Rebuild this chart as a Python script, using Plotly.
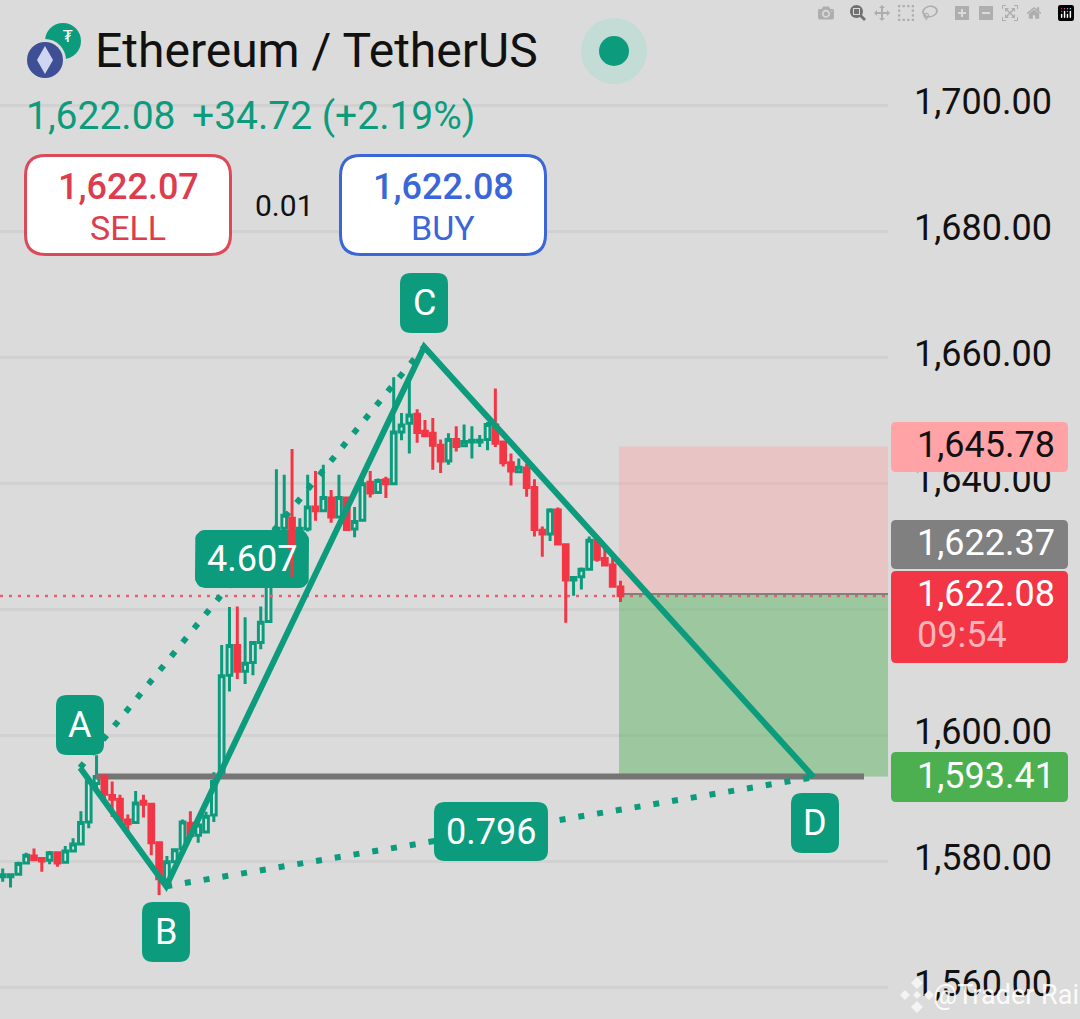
import math
import plotly.graph_objects as go

# Candles, ETH/USDT
candle_open = [
    1577.5, 1577.5, 1577.9, 1579.7, 1580.8, 1580.4, 1580.1, 1581.3, 1579.8, 1581.6,
    1582.7, 1586.2, 1592.3, 1593.5, 1590.4, 1589.8, 1586.5, 1586.1, 1589.5, 1589.0,
    1582.9, 1577.0, 1579.9, 1582.0, 1586.0, 1584.1, 1584.6, 1587.3, 1593.3, 1609.5,
    1614.2, 1610.1, 1611.5, 1614.7, 1618.0, 1628.3, 1632.8, 1634.4, 1631.5, 1632.7,
    1636.2, 1635.6, 1637.6, 1634.6, 1637.6, 1632.7, 1634.1, 1640.1, 1638.5, 1640.5,
    1639.9, 1648.1, 1649.5, 1650.9, 1648.2, 1647.9, 1646.0, 1643.5, 1646.9, 1645.9,
    1646.5, 1646.5, 1646.9, 1649.2, 1646.5, 1643.2, 1641.8, 1642.4, 1639.3, 1632.5,
    1631.9, 1635.7, 1630.2, 1624.6, 1625.1, 1626.3, 1630.9, 1628.0, 1627.0, 1623.5,
]
candle_high = [
    1578.8, 1578.0, 1579.9, 1581.3, 1582.0, 1580.5, 1581.6, 1581.5, 1582.4, 1583.6,
    1587.9, 1593.1, 1596.8, 1593.6, 1592.6, 1590.5, 1587.4, 1591.1, 1590.5, 1589.1,
    1583.0, 1580.8, 1582.0, 1586.6, 1587.9, 1586.8, 1587.8, 1594.1, 1614.3, 1620.3,
    1620.4, 1618.7, 1614.8, 1620.4, 1631.0, 1642.2, 1641.3, 1645.4, 1634.4, 1641.3,
    1641.9, 1642.9, 1638.9, 1641.3, 1637.7, 1636.2, 1640.5, 1641.9, 1640.7, 1641.0,
    1656.8, 1651.1, 1656.3, 1651.7, 1650.0, 1650.3, 1646.9, 1647.9, 1649.0, 1649.3,
    1649.0, 1647.6, 1649.7, 1655.0, 1646.7, 1644.7, 1643.9, 1643.1, 1640.6, 1633.1,
    1636.0, 1636.1, 1630.3, 1625.2, 1626.6, 1631.5, 1631.7, 1630.2, 1628.3, 1624.5,
]
candle_low = [
    1576.7, 1575.8, 1577.9, 1579.5, 1580.2, 1578.3, 1579.5, 1579.1, 1579.8, 1581.5,
    1582.7, 1585.2, 1591.0, 1589.8, 1587.0, 1586.2, 1583.9, 1586.1, 1586.9, 1580.9,
    1574.6, 1577.0, 1579.9, 1582.0, 1584.0, 1582.9, 1584.5, 1586.2, 1593.3, 1606.9,
    1608.9, 1608.1, 1609.5, 1613.6, 1617.9, 1627.5, 1632.0, 1625.1, 1630.9, 1632.3,
    1634.0, 1635.6, 1633.7, 1634.4, 1632.5, 1631.4, 1634.0, 1637.7, 1638.4, 1637.6,
    1639.8, 1646.8, 1644.7, 1646.4, 1647.4, 1642.1, 1641.6, 1642.9, 1645.0, 1645.8,
    1643.9, 1645.7, 1645.2, 1645.7, 1642.6, 1639.6, 1641.6, 1637.8, 1631.5, 1628.3,
    1630.8, 1630.3, 1617.8, 1622.1, 1623.1, 1626.2, 1627.5, 1626.8, 1623.5, 1621.1,
]
candle_close = [
    1577.8, 1577.8, 1579.6, 1580.9, 1580.2, 1580.0, 1581.3, 1579.7, 1581.6, 1582.7,
    1586.1, 1592.6, 1593.4, 1590.6, 1589.8, 1586.4, 1585.9, 1589.2, 1589.0, 1582.9,
    1577.2, 1579.9, 1581.8, 1586.2, 1584.0, 1585.7, 1587.1, 1592.6, 1609.4, 1614.2,
    1610.1, 1611.4, 1614.7, 1617.9, 1628.3, 1632.8, 1634.9, 1629.6, 1632.8, 1636.2,
    1635.6, 1637.7, 1634.6, 1637.7, 1632.6, 1633.9, 1639.9, 1638.4, 1640.4, 1639.9,
    1648.1, 1649.2, 1650.8, 1648.0, 1647.5, 1646.0, 1643.5, 1646.9, 1645.8, 1646.6,
    1646.8, 1646.8, 1649.3, 1646.3, 1643.2, 1641.9, 1642.5, 1639.3, 1632.6, 1631.9,
    1635.7, 1630.3, 1624.6, 1625.0, 1626.3, 1630.9, 1627.9, 1627.0, 1623.6, 1622.1,
]

# ABCD pattern, x in candle numbers
pattern_names = ["A", "B", "C", "D"]
pattern_x = [9.9, 20.9, 53.9, 103.7]
pattern_y = [1594.8, 1576.0, 1661.6, 1593.3]

tick_vals = [1560, 1580, 1600, 1620, 1640, 1660, 1680, 1700]

entry_price = 1622.37
last_price = 1622.08
stop_price = 1645.78
target_price = 1593.41

# page and scale
W, H = 1080, 1019
PLOT_W = 888
X0_PX, STEP_PX = 2.7, 7.82
Y_TOP, Y_BOTTOM = 1700 + 105 / 6.3, 1700 - 914 / 6.3

BG = "#dbdbdb"
GREEN = "#0c9b7d"
RED = "#f23645"
FONT = "Roboto"


def px_x(px):
    return (px - X0_PX) / STEP_PX


def py_y(py):
    return Y_TOP - (Y_TOP - Y_BOTTOM) * py / H


def round_rect(x0, y0, x1, y1, r):
    # svg path in paper coords, inputs in page pixels
    def p(x, y):
        return f"{x / W:.5f},{1 - y / H:.5f}"
    return (
        f"M{p(x0 + r, y0)} L{p(x1 - r, y0)} Q{p(x1, y0)} {p(x1, y0 + r)} "
        f"L{p(x1, y1 - r)} Q{p(x1, y1)} {p(x1 - r, y1)} L{p(x0 + r, y1)} "
        f"Q{p(x0, y1)} {p(x0, y1 - r)} L{p(x0, y0 + r)} Q{p(x0, y0)} {p(x0 + r, y0)} Z"
    )


def round_outline(x0, y0, x1, y1, r):
    # same box as a polyline, for the label that has to sit under the red candles
    xs, ys = [], []
    corners = [(x1 - r, y0 + r, -90), (x1 - r, y1 - r, 0), (x0 + r, y1 - r, 90), (x0 + r, y0 + r, 180)]
    for cx, cy, start in corners:
        for step in range(7):
            a = math.radians(start + step * 15)
            xs.append(px_x(cx + r * math.cos(a)))
            ys.append(py_y(cy + r * math.sin(a)))
    return xs + xs[:1], ys + ys[:1]


def box(x0, y0, x1, y1, r, fill, line=None, width=0):
    return dict(type="path", xref="paper", yref="paper", path=round_rect(x0, y0, x1, y1, r),
                fillcolor=fill, line=dict(color=line or fill, width=width), layer="above")


def circle(cx, cy, r, fill):
    return dict(type="circle", xref="paper", yref="paper", x0=(cx - r) / W, x1=(cx + r) / W,
                y0=1 - (cy + r) / H, y1=1 - (cy - r) / H, fillcolor=fill,
                line=dict(width=0), layer="above")


def diamond(cx, cy, rx, ry, fill):
    path = (f"M{cx / W:.5f},{1 - (cy - ry) / H:.5f} L{(cx + rx) / W:.5f},{1 - cy / H:.5f} "
            f"L{cx / W:.5f},{1 - (cy + ry) / H:.5f} L{(cx - rx) / W:.5f},{1 - cy / H:.5f} Z")
    return dict(type="path", xref="paper", yref="paper", path=path, fillcolor=fill,
                line=dict(width=0), layer="above")


def text(px, py, s, size, color, anchor="left", weight=400, family=FONT):
    return dict(xref="paper", yref="paper", x=px / W, y=1 - py / H, text=s, showarrow=False,
                xanchor=anchor, yanchor="middle", align=anchor, borderpad=0,
                font=dict(family=family, size=size, color=color, weight=weight))


idx = list(range(len(candle_open)))
up = [i for i in idx if candle_close[i] >= candle_open[i]]
down = [i for i in idx if candle_close[i] < candle_open[i]]

fig = go.Figure()

# target line across the chart
fig.add_trace(go.Scatter(x=[px_x(96), px_x(864)], y=[target_price, target_price], mode="lines",
                         line=dict(color="#757575", width=6), hoverinfo="skip"))
# current price
fig.add_trace(go.Scatter(x=[px_x(0), px_x(PLOT_W)], y=[last_price, last_price], mode="lines",
                         line=dict(color="#e5606c", width=2.5, dash="3px,6px"), hoverinfo="skip"))
fig.add_trace(go.Scatter(x=[px_x(619), px_x(PLOT_W)], y=[entry_price, entry_price], mode="lines",
                         line=dict(color="#808080", width=2), hoverinfo="skip"))

# dotted legs
fig.add_trace(go.Scatter(x=[pattern_x[0], pattern_x[2]], y=[pattern_y[0], pattern_y[2]], mode="lines",
                         line=dict(color=GREEN, width=6, dash="6px,12px"), hoverinfo="skip"))
fig.add_trace(go.Scatter(x=[pattern_x[1], pattern_x[3]], y=[pattern_y[1], pattern_y[3]], mode="lines",
                         line=dict(color=GREEN, width=6, dash="6px,13px"), hoverinfo="skip"))

fig.add_trace(go.Candlestick(
    x=up,
    open=[candle_open[i] for i in up],
    high=[candle_high[i] for i in up],
    low=[candle_low[i] for i in up],
    close=[candle_close[i] for i in up],
    increasing=dict(line=dict(color=GREEN, width=3), fillcolor="#dcebe6"),
    whiskerwidth=0, hoverinfo="skip",
))

# 4.607 label sits between the green and the red candles
label_xs, label_ys = round_outline(195, 530, 309, 588, 10)
fig.add_trace(go.Scatter(x=label_xs, y=label_ys, mode="lines", fill="toself", fillcolor=GREEN,
                         line=dict(color=GREEN, width=0), hoverinfo="skip"))

# overlay axes keep red candles and the solid legs on top of that label
fig.add_trace(go.Candlestick(
    x=down,
    open=[candle_open[i] for i in down],
    high=[candle_high[i] for i in down],
    low=[candle_low[i] for i in down],
    close=[candle_close[i] for i in down],
    decreasing=dict(line=dict(color=RED, width=3), fillcolor=RED),
    whiskerwidth=0, hoverinfo="skip", xaxis="x2", yaxis="y2",
))
fig.add_trace(go.Scatter(x=pattern_x, y=pattern_y, mode="lines", xaxis="x2", yaxis="y2",
                         line=dict(color=GREEN, width=6), hoverinfo="skip"))

shapes = [
    # position box
    dict(type="rect", xref="x", yref="y", x0=px_x(619), x1=px_x(PLOT_W), y0=entry_price, y1=stop_price,
         fillcolor="rgba(255,155,155,0.36)", line=dict(width=0), layer="between"),
    dict(type="rect", xref="x", yref="y", x0=px_x(619), x1=px_x(PLOT_W), y0=target_price, y1=entry_price,
         fillcolor="rgba(76,175,80,0.43)", line=dict(width=0), layer="between"),
    # point labels
    box(56, 695, 104, 755, 11, GREEN),
    box(142, 902, 190, 962, 11, GREEN),
    box(400, 273, 448, 333, 11, GREEN),
    box(791, 793, 839, 853, 11, GREEN),
    box(434, 802, 548, 861, 11, GREEN),
    # header buttons
    box(25.5, 155.5, 230.5, 254.5, 20, "#ffffff", "#dc4a5a", 3),
    box(340.5, 155.5, 545.5, 254.5, 20, "#ffffff", "#3a66d8", 3),
    # price tags
    box(891, 422, 1068, 472, 5, "#ffa3a6"),
    box(891, 520, 1068, 569, 5, "#808080"),
    box(891, 571, 1068, 663, 5, "#f23645"),
    box(891, 752, 1068, 802, 5, "#4caf50"),
    # logos
    circle(63, 41, 18, GREEN),
    circle(45, 60, 21, BG),
    circle(45, 60, 18, "#3f4f96"),
    diamond(45, 60, 8, 14, "#cfd6f2"),
    circle(614, 51, 33, "#c3dcd5"),
    circle(614, 51, 15, GREEN),
    # watermark logo
    diamond(917, 983, 6, 6, "#f4f4f4"),
    diamond(917, 1007, 6, 6, "#f4f4f4"),
    diamond(905, 995, 5, 5, "#f4f4f4"),
    diamond(929, 995, 5, 5, "#f4f4f4"),
    diamond(917, 995, 4, 4, "#f4f4f4"),
]

label_px = [(80, 725), (166, 932), (424, 303), (815, 823)]
annotations = [text(px, py, name, 36, "#ffffff", "center") for name, (px, py) in zip(pattern_names, label_px)]
annotations += [
    text(252, 559, "4.607", 36, "#ffffff", "center"),
    text(491, 832, "0.796", 36, "#ffffff", "center"),
    text(68, 37, "₮", 15, "#ffffff", "center", family="DejaVu Sans"),
    text(94, 51, "Ethereum / TetherUS", 48, "#111111"),
    text(25, 116, "1,622.08", 39, GREEN),
    text(191, 116, "+34.72 (+2.19%)", 39, GREEN),
    text(128, 187, "1,622.07", 36, "#dc3c4e", "center", 500),
    text(128, 228, "SELL", 34, "#dc3c4e", "center"),
    text(284, 205, "0.01", 30, "#111111", "center"),
    text(443, 187, "1,622.08", 36, "#3a66d8", "center", 500),
    text(443, 228, "BUY", 34, "#3a66d8", "center"),
    text(916, 445, f"{stop_price:,.2f}", 36, "#111111"),
    text(916, 543, f"{entry_price:,.2f}", 36, "#ffffff"),
    text(916, 594, f"{last_price:,.2f}", 36, "#ffffff"),
    text(916, 635, "09:54", 36, "#ffb4bb"),
    text(916, 776, f"{target_price:,.2f}", 36, "#ffffff"),
    text(932, 995, "@Trader Rai", 27, "rgba(255,255,255,0.9)"),
]

x_range = [px_x(0), px_x(PLOT_W)]
hidden_x = dict(domain=[0, PLOT_W / W], range=x_range, visible=False, rangeslider=dict(visible=False))

fig.update_layout(
    width=W, height=H,
    margin=dict(l=0, r=0, t=0, b=0),
    paper_bgcolor=BG, plot_bgcolor=BG,
    showlegend=False,
    boxgap=0.14,
    xaxis=hidden_x,
    xaxis2=dict(hidden_x, overlaying="x"),
    yaxis=dict(
        range=[Y_BOTTOM, Y_TOP], side="right", anchor="x",
        tickvals=tick_vals, tickformat=",.2f", ticks="",
        ticklabelstandoff=25, ticklabelshift=-4,
        tickfont=dict(family=FONT, size=36, color="#111111"),
        showgrid=True, gridcolor="#d1d1d1", gridwidth=3,
        zeroline=False, showline=False, automargin=False,
    ),
    yaxis2=dict(range=[Y_BOTTOM, Y_TOP], overlaying="y", visible=False, side="right"),
    shapes=shapes,
    annotations=annotations,
)

fig.write_html("out.html", post_script="document.body.style.margin='0';document.body.style.overflow='hidden';")
